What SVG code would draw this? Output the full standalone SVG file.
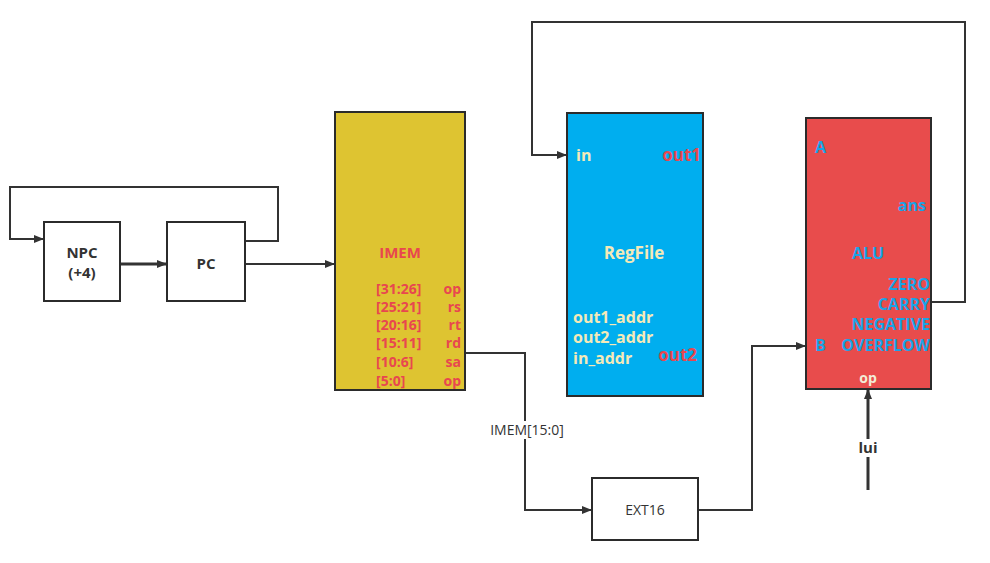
<svg xmlns="http://www.w3.org/2000/svg" width="990" height="563" viewBox="0 0 990 563">
<style>
text{font-family:"Open Sans","Liberation Sans",sans-serif;font-weight:bold;font-size:15px}
.box{stroke:#2b2b2b;stroke-width:2}
.w{fill:#fff}
.ln{fill:none;stroke:#333;stroke-width:2}
.r{fill:#e8474f}
.c{fill:#f5eab8}
.b{fill:#1aa3e8}
.k{fill:#333}
.s14{font-size:14px}
.s16{font-size:16px}
.s17{font-size:17px}
</style>
<defs><marker id="a" markerWidth="10" markerHeight="8" refX="9" refY="4" orient="auto" markerUnits="userSpaceOnUse"><path d="M0,0L10,4L0,8z" fill="#333"/></marker></defs>
<rect width="990" height="563" fill="#fff"/>
<g id="connectors">
<path class="ln" d="M245,241H278V187H10V239H43" marker-end="url(#a)"/>
<path class="ln" d="M120,264H166" style="stroke-width:3" marker-end="url(#a)"/>
<path class="ln" d="M245,264H334" marker-end="url(#a)"/>
<path class="ln" d="M931,302H965V22H532V155H566" marker-end="url(#a)"/>
<path class="ln" d="M465,353H525V510H591" marker-end="url(#a)"/>
<path class="ln" d="M698,510H752V346H805" marker-end="url(#a)"/>
<path class="ln" d="M868,490V390" style="stroke-width:3" marker-end="url(#a)"/>
<rect x="486" y="421" width="82" height="18" fill="#fff"/>
<text x="527" y="435" text-anchor="middle" style="font-weight:normal;font-size:14px" class="k">IMEM[15:0]</text>
<rect x="858" y="439" width="20" height="18" fill="#fff"/>
<text x="868" y="453" text-anchor="middle" class="k">lui</text>
</g>
<g id="npc"><rect class="box w" x="44" y="222" width="76" height="79"/><text x="82" y="258" text-anchor="middle" class="k">NPC</text><text x="82" y="278" text-anchor="middle" class="k">(+4)</text></g>
<g id="pc"><rect class="box w" x="167" y="222" width="78" height="79"/><text x="206" y="269" text-anchor="middle" class="k">PC</text></g>
<g id="imem"><rect class="box" fill="#dec431" x="335" y="112" width="130" height="278"/>
<text x="400" y="258" text-anchor="middle" class="r">IMEM</text>
<g class="r"><text class="s14" x="376" y="294">[31:26]</text><text class="s14" x="376" y="312">[25:21]</text><text class="s14" x="376" y="330">[20:16]</text><text class="s14" x="376" y="348">[15:11]</text><text class="s14" x="376" y="367">[10:6]</text><text class="s14" x="376" y="386">[5:0]</text>
<text class="s14" x="461" y="294" text-anchor="end">op</text><text class="s14" x="461" y="312" text-anchor="end">rs</text><text class="s14" x="461" y="330" text-anchor="end">rt</text><text class="s14" x="461" y="348" text-anchor="end">rd</text><text class="s14" x="461" y="367" text-anchor="end">sa</text><text class="s14" x="461" y="386" text-anchor="end">op</text></g></g>
<g id="regfile"><rect class="box" fill="#00aeef" x="567" y="113" width="136" height="283"/>
<text x="576" y="161" class="c s16">in</text><text x="701" y="161" text-anchor="end" class="r s17">out1</text>
<text x="634" y="259" text-anchor="middle" class="c s17">RegFile</text>
<text x="573" y="323" class="c s16">out1_addr</text><text x="573" y="343" class="c s16">out2_addr</text><text x="573" y="364" class="c s16">in_addr</text>
<text x="697" y="361" text-anchor="end" class="r s17">out2</text></g>
<g id="alu"><rect class="box" fill="#e84c4c" x="806" y="118" width="125" height="271"/>
<text x="815" y="153" class="b s16">A</text><text x="926" y="211" text-anchor="end" class="b s16">ans</text>
<text x="868" y="259" text-anchor="middle" class="b s16">ALU</text>
<g class="b" text-anchor="end"><text class="s16" x="930" y="290">ZERO</text><text class="s16" x="930" y="310">CARRY</text><text class="s16" x="930" y="330">NEGATIVE</text><text class="s16" x="930" y="351">OVERFLOW</text></g>
<text x="815" y="351" class="b s16">B</text><text x="868" y="383" text-anchor="middle" fill="#f3ecd8" class="s14">op</text></g>
<g id="ext16"><rect class="box w" x="592" y="478" width="106" height="62"/><text x="645" y="515" text-anchor="middle" class="k" style="font-weight:normal;font-size:14px">EXT16</text></g>
</svg>
